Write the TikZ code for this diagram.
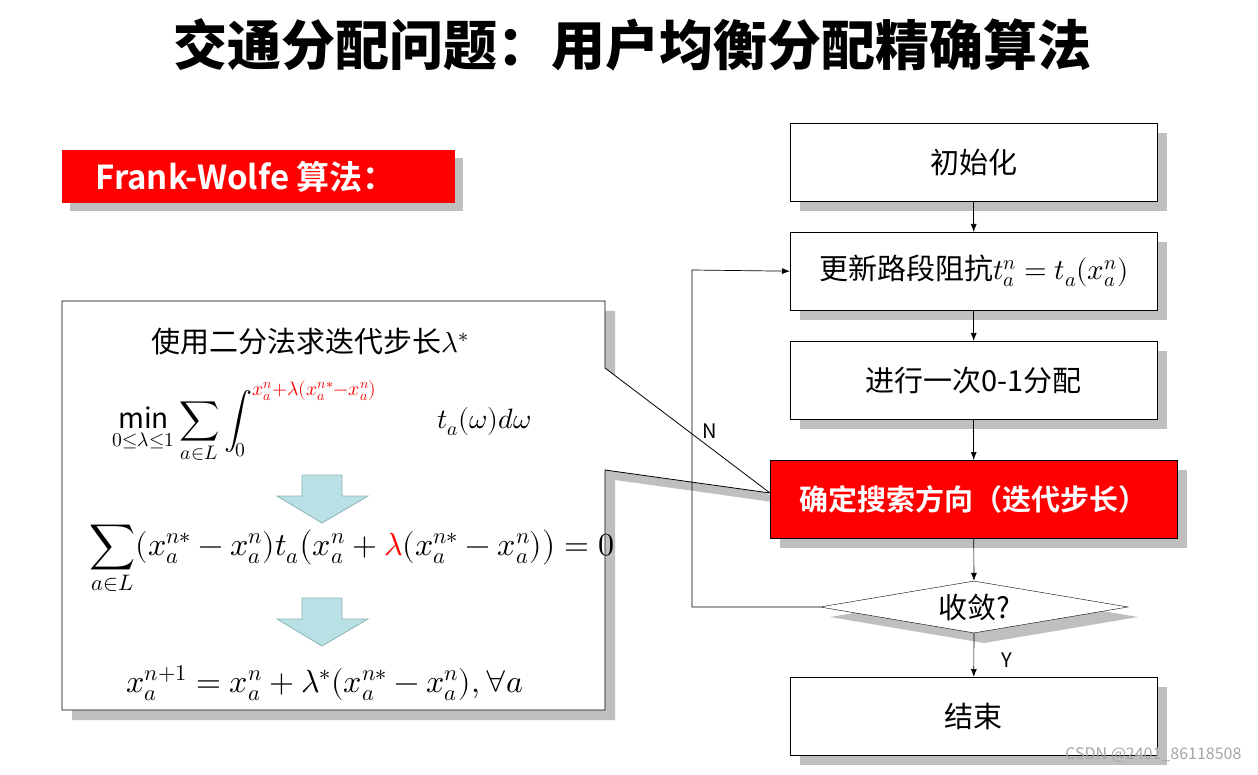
\documentclass[tikz,border=0pt]{standalone}
\usepackage{amsmath}
\usepackage{fontspec}
\usepackage{unicode-math}
\setmathfont{Latin Modern Math}
\setmainfont{Noto Sans CJK SC}
\newfontfamily\cjkb{Noto Sans CJK SC Black}
\newfontfamily\cjkbb{Noto Sans CJK SC Bold}
\usetikzlibrary{shapes.geometric,arrows.meta}
\definecolor{arrc}{RGB}{185,224,228}
\definecolor{arrd}{RGB}{140,180,185}
\begin{document}
\begin{tikzpicture}[x=1pt,y=-1pt,
  fbox/.style={draw=black,fill=white,minimum width=367pt,minimum height=78pt,font=\fontsize{29}{32}\selectfont,inner sep=0pt},
  shad/.style={fill=black!25},
  arr/.style={-{Latex[length=8pt,width=6pt]},line width=0.7pt}]
\useasboundingbox (0,0) rectangle (1258,775);
\fill[white] (0,0) rectangle (1258,775);
\node[font=\cjkb\fontsize{54}{58}\selectfont] (title) at (632,45) {交通分配问题：用户均衡分配精确算法};
% red label
\fill[shad] (70,158) rectangle (463,211);
\node[fill=red,minimum width=393pt,minimum height=53pt,anchor=north west,inner sep=0pt] (fw) at (62,150) {};
\node[font=\cjkbb\fontsize{33}{35}\selectfont,text=white,anchor=west] (fwt) at (92,177) {Frank-Wolfe 算法：};
% callout
\fill[shad] (72,311) -- (615,311) -- (615,378) -- (780,503) -- (615,480) -- (615,720) -- (72,720) -- cycle;
\draw[fill=white,line width=0.8pt] (62,301) -- (605,301) -- (605,368) -- (770,493) -- (605,470) -- (605,710) -- (62,710) -- cycle;
\node[font=\fontsize{29}{32}\selectfont] (c1) at (310,342) {使用二分法求迭代步长$\lambda^{*}$};
\node[font=\fontsize{28}{30}\selectfont] (c2) at (322,422) {$\displaystyle\min_{0\le\lambda\le1}\sum_{a\in L}\int_0^{\textcolor{red}{x_a^n+\lambda(x_a^{n*}-x_a^n)}}\qquad t_a(\omega)d\omega$};
\node[font=\fontsize{32}{34}\selectfont] (c3) at (352,560) {$\displaystyle\sum_{a\in L}(x_a^{n*}-x_a^n)t_a\big(x_a^n+\textcolor{red}{\lambda}(x_a^{n*}-x_a^n)\big)=0$};
\node[font=\fontsize{32}{34}\selectfont] (c4) at (325,683) {$x_a^{n+1}=x_a^n+\lambda^{*}(x_a^{n*}-x_a^n),\forall a$};
\foreach \yy/\nm in {475/a1,598/a2}{
  \draw[fill=arrc,draw=arrd,line width=0.8pt] (302,\yy) -- (342,\yy) -- (342,\yy+21) -- (368,\yy+21) -- (322,\yy+48) -- (277,\yy+21) -- (302,\yy+21) -- cycle;
}
% flowchart
\foreach \y in {123,232,341,677} \fill[shad] (800,\y+10) rectangle (1167,\y+88);
\fill[shad] (780,470) rectangle (1187,548);
\fill[shad] (830,617) -- (984,591) -- (1138,617) -- (984,643) -- cycle;
\node[fbox,anchor=north west] (n1) at (790,123) {初始化};
\node[fbox,anchor=north west] (n2) at (790,232) {更新路段阻抗$t_a^n=t_a(x_a^n)$};
\node[fbox,anchor=north west] (n3) at (790,341) {进行一次0-1分配};
\node[fbox,anchor=north west,fill=red,minimum width=407pt,font=\cjkbb\fontsize{29}{32}\selectfont,text=white] (n4) at (770,460) {确定搜索方向（迭代步长）};
\node[draw,fill=white,diamond,aspect=5.9,minimum width=308pt,minimum height=52pt,inner sep=0pt,font=\fontsize{29}{32}\selectfont] (n5) at (974,607) {收敛?};
\node[fbox,anchor=north west] (n6) at (790,677) {结束};
\draw[arr] (n1) -- (n2);
\draw[arr] (n2) -- (n3);
\draw[arr] (n3) -- (n4);
\draw[arr] (n4) -- (n5);
\draw[arr] (n5) -- (n6);
\coordinate (b1) at (692,607);
\coordinate (b2) at (692,270);
\draw[arr] (n5.west) -- (b1) -- (b2) -- (n2.west);
\node[font=\fontsize{20}{22}\selectfont] (N) at (710,431) {N};
\node[font=\fontsize{20}{22}\selectfont] (Y) at (1007,660) {Y};
\node[font=\fontsize{16}{18}\selectfont,text=black!35,anchor=east] (wm) at (1245,755) {CSDN @2401\_86118508};
\end{tikzpicture}
\end{document}
